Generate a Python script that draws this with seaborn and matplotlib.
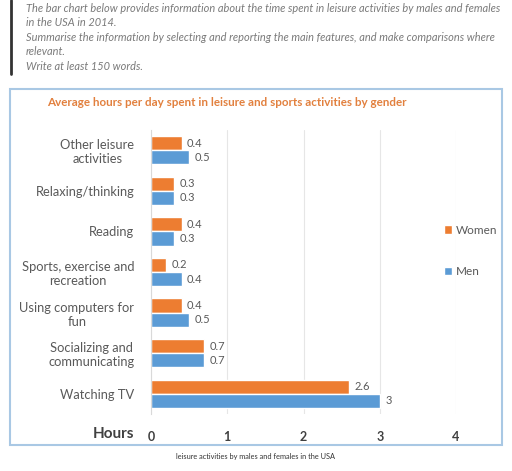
import matplotlib.pyplot as plt
import matplotlib
import pandas as pd
import seaborn as sns
from matplotlib.patches import Rectangle

# 資料：各項休閒活動的平均每日時數（男女）
categories = ['Other leisure\nactivities', 'Relaxing/thinking', 'Reading',
              'Sports, exercise and\nrecreation', 'Using computers for\nfun',
              'Socializing and\ncommunicating', 'Watching TV']
women_hours = [0.4, 0.3, 0.4, 0.2, 0.4, 0.7, 2.6]
men_hours = [0.5, 0.3, 0.3, 0.4, 0.5, 0.7, 3]
genders = ['Women', 'Men']
x_ticks = [0, 1, 2, 3, 4]

prompt_lines = [
    'The bar chart below provides information about the time spent in leisure activities by males and females',
    'in the USA in 2014.',
    'Summarise the information by selecting and reporting the main features, and make comparisons where',
    'relevant.',
    'Write at least 150 words.',
]

sns.set_style('white')
matplotlib.rcParams['font.family'] = ['Lato', 'DejaVu Sans']

df = pd.DataFrame({
    'Activity': categories * 2,
    'Hours': women_hours + men_hours,
    'Gender': ['Women'] * len(categories) + ['Men'] * len(categories),
})

W, H = 512, 471
fig = plt.figure(figsize=(W / 100, H / 100), dpi=100)

# 上方題目文字與左側深色直線
for i, line in enumerate(prompt_lines):
    fig.text(26 / W, 1 - (8 + i * 14.6) / H, line, fontsize=7.9, style='italic',
             color='#7a7a7a', va='center', ha='left')
fig.add_artist(plt.Line2D([11 / W, 11 / W], [1, 1 - 74 / H], color='#333333',
                          lw=2, transform=fig.transFigure))

# 圖表外框
fig.add_artist(Rectangle((10 / W, 1 - 445 / H), 492 / W, 356 / H, fill=False,
                         edgecolor='#a9c8e4', lw=1.5, transform=fig.transFigure))
fig.text(47 / W, 1 - 103 / H,
         'Average hours per day spent in leisure and sports activities by gender',
         fontsize=8.4, fontweight='bold', color='#e2803e', va='center', ha='left')

ax = fig.add_axes([151 / W, 1 - 414 / H, 305 / W, 284 / H])
palette = {'Women': '#ed7d31', 'Men': '#5b9bd5'}
sns.barplot(data=df, y='Activity', x='Hours', hue='Gender', hue_order=genders,
            order=categories, palette=palette, orient='h', width=0.7,
            saturation=1, ax=ax, legend=True)

for cont in ax.containers:
    ax.bar_label(cont, fmt='%g', padding=4, fontsize=8, color='#595959')

ax.set_xlim(0, 4)
ax.set_ylim(6.5, -0.5)
ax.set_xticks(x_ticks)
ax.set_xticklabels([str(t) for t in x_ticks], fontsize=9, fontweight='bold',
                   color='#404040')
ax.tick_params(axis='x', length=0, pad=12)
ax.tick_params(axis='y', length=0, pad=12, labelsize=9.3, labelcolor='#595959')
for lab in ax.get_yticklabels():
    lab.set_multialignment('center')
ax.set_xlabel('')
ax.set_ylabel('')
ax.grid(axis='x', color='#e6e6e6', lw=0.8)
ax.set_axisbelow(True)
for s in ['top', 'right', 'bottom']:
    ax.spines[s].set_visible(False)
ax.spines['left'].set_color('#d9d9d9')

fig.text(113 / W, 1 - 434 / H, 'Hours', fontsize=11, fontweight='bold',
         color='#404040', va='center', ha='center')

ax.legend(loc='center left', bbox_to_anchor=(433 / W, 1 - 251 / H),
          bbox_transform=fig.transFigure, frameon=False, fontsize=8.5,
          handlelength=0.7, handleheight=0.7, handletextpad=0.3,
          labelspacing=2.6, labelcolor='#595959')

fig.text(255 / W, 1 - 456 / H, 'leisure activities by males and females in the USA',
         fontsize=5.3, color='#333333', va='center', ha='center')

plt.savefig('out.png', dpi=100)
